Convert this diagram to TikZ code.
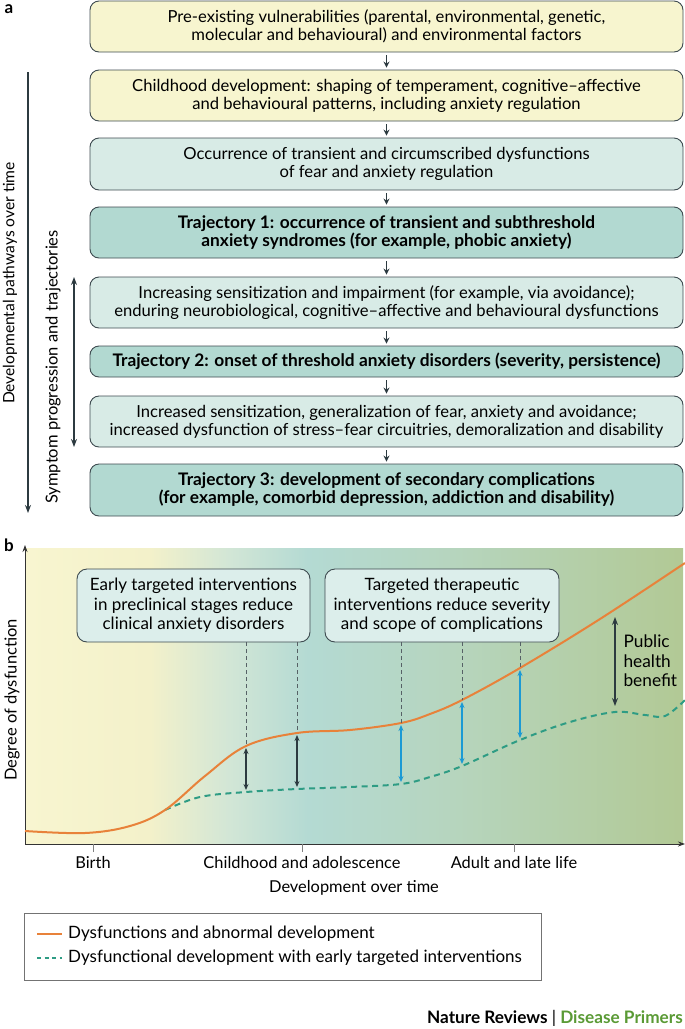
\documentclass[tikz,border=0pt]{standalone}
\usepackage{fontspec}
\setmainfont{Lato}
\usetikzlibrary{arrows.meta,calc}
\definecolor{yel}{HTML}{F7F5CF}
\definecolor{lteal}{HTML}{D8EBE6}
\definecolor{dteal}{HTML}{B2D9D1}
\definecolor{bord}{HTML}{3E4B50}
\definecolor{darr}{HTML}{2C3A40}
\definecolor{orng}{HTML}{E8823A}
\definecolor{dgrn}{HTML}{2E9C84}
\definecolor{blu}{HTML}{1B9AD4}
\definecolor{call}{HTML}{DCEEEB}
\definecolor{npgreen}{HTML}{5A9A35}
\definecolor{g1}{HTML}{F8F5D0}
\definecolor{g2}{HTML}{F3F1CA}
\definecolor{g3}{HTML}{D2E6D6}
\definecolor{g4}{HTML}{B4DAD3}
\definecolor{g5}{HTML}{B6D5BE}
\definecolor{g6}{HTML}{B2C995}
\pgfdeclarehorizontalshading{bgshade}{100bp}{color(0bp)=(g1); color(25bp)=(g1); color(34.5bp)=(g2); color(40.5bp)=(g3); color(46.5bp)=(g4); color(57.5bp)=(g5); color(75bp)=(g6); color(100bp)=(g6)}
\tikzset{
  boxbase/.style={draw=bord, line width=0.9pt, rounded corners=9pt, minimum width=593pt, align=center, inner sep=0pt, font=\fontsize{16.6}{18}\selectfont},
  ybox/.style={boxbase, fill=yel, minimum height=51pt},
  tbox/.style={boxbase, fill=lteal, minimum height=51pt},
  trbox/.style={boxbase, fill=dteal, minimum height=51pt, font=\fontsize{17.3}{18}\selectfont\bfseries},
  flowarr/.style={-{Stealth[length=6pt,width=6pt]}, line width=1.3pt, draw=darr, shorten <=3pt, shorten >=2pt},
  sidearr/.style={line width=1.4pt, draw=darr},
  callbox/.style={draw=bord, line width=0.9pt, fill=call, rounded corners=10pt, minimum height=73pt, align=center, inner sep=0pt, font=\fontsize{17}{19.5}\selectfont},
  guide/.style={draw=darr!80, dashed, dash pattern=on 4pt off 3pt, line width=0.6pt},
  blkarr/.style={{Stealth[length=6pt,width=5pt]}-{Stealth[length=6pt,width=5pt]}, line width=1.5pt, draw=darr, shorten <=2pt, shorten >=2pt},
  bluarr/.style={{Stealth[length=6pt,width=5pt]}-{Stealth[length=6pt,width=5pt]}, line width=1.5pt, draw=blu, shorten <=2pt, shorten >=2pt},
  lbl/.style={font=\fontsize{16.4}{17}\selectfont},
  panel/.style={font=\fontsize{17}{17}\selectfont\bfseries},
}
\begin{document}
\begin{tikzpicture}[x=1pt,y=-1pt]
\path[use as bounding box] (0,0) rectangle (685,1029);
% ---------- panel a ----------
\node[panel] (pa) at (9,9) {a};
\node[ybox] (b1) at (386.5,26.5) {Pre-existing vulnerabilities (parental, environmental, genetic,\\molecular and behavioural) and environmental factors};
\node[ybox] (b2) at (386.5,95.5) {Childhood development: shaping of temperament, cognitive–affective\\and behavioural patterns, including anxiety regulation};
\node[tbox, minimum height=52pt] (b3) at (386.5,164) {Occurrence of transient and circumscribed dysfunctions\\of fear and anxiety regulation};
\node[trbox] (b4) at (386.5,232.5) {Trajectory 1: occurrence of transient and subthreshold\\anxiety syndromes (for example, phobic anxiety)};
\node[tbox] (b5) at (386.5,302.5) {Increasing sensitization and impairment (for example, via avoidance);\\enduring neurobiological, cognitive–affective and behavioural dysfunctions};
\node[trbox, minimum height=31pt] (b6) at (386.5,361.5) {Trajectory 2: onset of threshold anxiety disorders (severity, persistence)};
\node[tbox] (b7) at (386.5,421.5) {Increased sensitization, generalization of fear, anxiety and avoidance;\\increased dysfunction of stress–fear circuitries, demoralization and disability};
\node[trbox, minimum height=52pt] (b8) at (386.5,490) {Trajectory 3: development of secondary complications\\(for example, comorbid depression, addiction and disability)};
\draw[flowarr] (b1) -- (b2);
\draw[flowarr] (b2) -- (b3);
\draw[flowarr] (b3) -- (b4);
\draw[flowarr] (b4) -- (b5);
\draw[flowarr] (b5) -- (b6);
\draw[flowarr] (b6) -- (b7);
\draw[flowarr] (b7) -- (b8);
% side arrows
\coordinate (dpT) at (28,72);
\coordinate (dpB) at (28,513);
\draw[sidearr, -{Stealth[length=8pt,width=6pt]}] (dpT) -- (dpB);
\node[rotate=90, font=\fontsize{15.6}{17}\selectfont] (dpL) at (10,283) {Developmental pathways over time};
\coordinate (spT) at (74,277);
\coordinate (spB) at (74,447);
\draw[sidearr, {Stealth[length=8pt,width=6pt]}-{Stealth[length=8pt,width=6pt]}] (spT) -- (spB);
\node[rotate=90, font=\fontsize{16.5}{17}\selectfont] (spL) at (53,367) {Symptom progression and trajectories};
% ---------- panel b ----------
\node[panel] (pb) at (9,545) {b};
\shade[shading=bgshade] (25,548) rectangle (683,844);
\coordinate (org) at (25,844);
\coordinate (yT) at (25,545);
\coordinate (xR) at (685,844);
\draw[line width=0.8pt, draw=black!80, -{Stealth[length=7pt,width=5pt]}] (org) -- (yT);
\draw[line width=0.8pt, draw=black!80, -{Stealth[length=7pt,width=5pt]}] (org) -- (xR);
\foreach \tx/\nm in {93/t1,302/t2,514/t3}{
  \coordinate (\nm) at (\tx,844);
  \draw[line width=0.8pt, draw=black!50] (\nm) -- ++(0,8);
}
\node[lbl, anchor=base] (xl1) at (93,868) {Birth};
\node[lbl, anchor=base] (xl2) at (302,868) {Childhood and adolescence};
\node[lbl, anchor=base] (xl3) at (514,868) {Adult and late life};
\node[lbl, anchor=base] (xt) at (354,892) {Development over time};
\node[rotate=90, font=\fontsize{16.5}{17}\selectfont] (yt) at (12,700) {Degree of dysfunction};
% curves
\draw[dgrn, line width=2pt, dash pattern=on 6pt off 4.5pt] plot[smooth, tension=0.6] coordinates {(165,810) (200,797) (246,792) (297,789) (350,787) (401,784) (430,777) (462,766) (520,740) (570,722) (615,712) (645,715) (665,716) (685,700)};
\draw[orng, line width=2pt] plot[smooth, tension=0.6] coordinates {(25,831) (85,833) (130,826) (165,810) (205,776) (246,746) (297,733) (350,730) (401,723) (430,714) (462,700) (520,668) (600,619) (685,563)};
% callouts
\node[callbox, minimum width=233pt] (c1) at (193.5,605.5) {Early targeted interventions\\in preclinical stages reduce\\clinical anxiety disorders};
\node[callbox, minimum width=234pt] (c2) at (442,605.5) {Targeted therapeutic\\interventions reduce severity\\and scope of complications};
% points on curves
\coordinate (o1) at (246,746); \coordinate (d1) at (246,792);
\coordinate (o2) at (297,733); \coordinate (d2) at (297,789);
\coordinate (o3) at (401,723); \coordinate (d3) at (401,784);
\coordinate (o4) at (462,700); \coordinate (d4) at (462,766);
\coordinate (o5) at (520,668); \coordinate (d5) at (520,740);
\draw[guide] (c1.south -| o1) -- (o1);
\draw[guide] (c1.south -| o2) -- (o2);
\draw[guide] (c2.south -| o3) -- (o3);
\draw[guide] (c2.south -| o4) -- (o4);
\draw[guide] (c2.south -| o5) -- (o5);
\draw[blkarr] (o1) -- (d1);
\draw[blkarr] (o2) -- (d2);
\draw[bluarr] (o3) -- (d3);
\draw[bluarr] (o4) -- (d4);
\draw[bluarr] (o5) -- (d5);
\coordinate (phT) at (615,617);
\coordinate (phB) at (615,706);
\draw[blkarr, shorten <=0pt, shorten >=0pt, {Stealth[length=8pt,width=6pt]}-{Stealth[length=8pt,width=6pt]}] (phT) -- (phB);
\node[anchor=west, align=left, font=\fontsize{17.3}{19.5}\selectfont] (phL) at (620,661) {Public\\health\\benefit};
% legend
\node[draw=black!55, line width=0.8pt, minimum width=517pt, minimum height=67pt, inner sep=0pt] (leg) at (282.5,946.5) {};
\coordinate (l1a) at (37,934); \coordinate (l1b) at (62,934);
\coordinate (l2a) at (37,958); \coordinate (l2b) at (62,958);
\draw[orng, line width=2pt] (l1a) -- (l1b);
\draw[dgrn, line width=2pt, dash pattern=on 4pt off 3.5pt] (l2a) -- (l2b);
\node[anchor=west, inner xsep=0pt, font=\fontsize{17}{17}\selectfont] (lt1) at (68,934) {Dysfunctions and abnormal development};
\node[anchor=west, inner xsep=0pt, font=\fontsize{17}{17}\selectfont] (lt2) at (68,958) {Dysfunctional development with early targeted interventions};
% credit
\node[anchor=east, inner sep=0pt, font=\fontsize{17.2}{17}\selectfont\bfseries] (cr) at (683,1018) {Nature Reviews {\mdseries|} \textcolor{npgreen}{Disease Primers}};
\end{tikzpicture}
\end{document}
